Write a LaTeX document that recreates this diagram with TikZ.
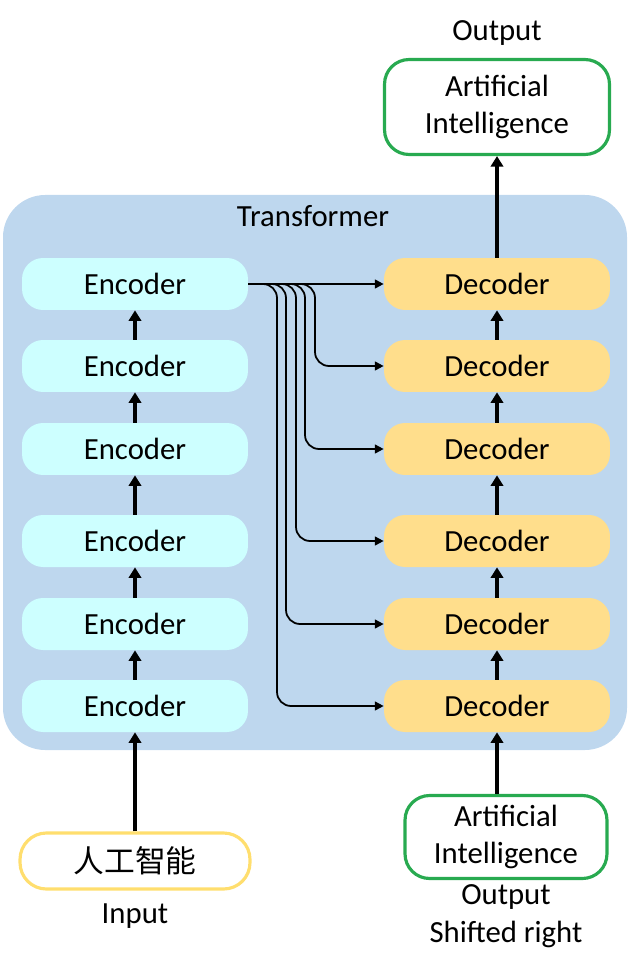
\documentclass[tikz,border=0pt]{standalone}
\usepackage{fontspec}
\setmainfont{Carlito}
\newfontfamily\cjk{Noto Sans CJK SC}
\usetikzlibrary{arrows.meta}
\definecolor{tbg}{RGB}{190,215,238}
\definecolor{enc}{RGB}{205,255,255}
\definecolor{dec}{RGB}{255,222,140}
\definecolor{grn}{RGB}{40,170,80}
\definecolor{ylw}{RGB}{255,222,110}
\begin{document}
\begin{tikzpicture}[x=0.02cm,y=-0.02cm,
  every node/.style={font=\fontsize{17.5}{21.5}\selectfont},
  blk/.style={rounded corners=12pt,minimum width=4.52cm,minimum height=1.04cm,inner sep=0},
  E/.style={blk,fill=enc},
  D/.style={blk,fill=dec},
  thick arrow/.style={line width=2.2pt,-{Triangle[length=6pt,width=7pt]}},
  thin arrow/.style={line width=1pt,-{Triangle[length=5pt,width=5pt]}}]
\useasboundingbox (0,0) rectangle (640,956);
\fill[tbg,rounded corners=24pt] (3,195) rectangle (627,750);
\node (tr) at (313,216) {Transformer};
\foreach \i/\y in {1/284,2/366,3/449,4/541,5/624,6/706}{
  \node[E] (e\i) at (135,\y) {Encoder};
  \node[D] (d\i) at (497,\y) {Decoder};
}
\foreach \a/\b in {6/5,5/4,4/3,3/2,2/1}{
  \draw[thick arrow] (e\a) -- (e\b);
  \draw[thick arrow] (d\a) -- (d\b);
}
\node[draw=grn,line width=1.8pt,rounded corners=14pt,minimum width=4.5cm,minimum height=1.9cm,align=center,inner sep=0] (out) at (497,107) {Artificial\\Intelligence};
\node (outl) at (497,33) {Output};
\node[draw=ylw,line width=1.8pt,rounded corners=15pt,minimum width=4.6cm,minimum height=1.12cm,inner sep=0] (in) at (135,861) {\cjk 人工智能};
\node (inl) at (135,916) {Input};
\node[draw=grn,line width=1.8pt,rounded corners=14pt,minimum width=4.04cm,minimum height=1.66cm,align=center,inner sep=0] (sh) at (506,837) {Artificial\\Intelligence};
\node[align=center] (shl) at (506,916) {Output\\Shifted right};
\draw[thick arrow] (in) -- (e6);
\draw[thick arrow] (d1) -- (out);
\draw[thick arrow] (sh.north -| d6) -- (d6);
\draw[thin arrow] (e1.east) -- (d1.west);
\foreach \i/\x in {2/315,3/305,4/296,5/286,6/277}{
  \draw[thin arrow,rounded corners=8pt] (e1.east) -- (\x,284) -- (\x,0 |- d\i.west) -- (d\i.west);
}
\end{tikzpicture}
\end{document}
